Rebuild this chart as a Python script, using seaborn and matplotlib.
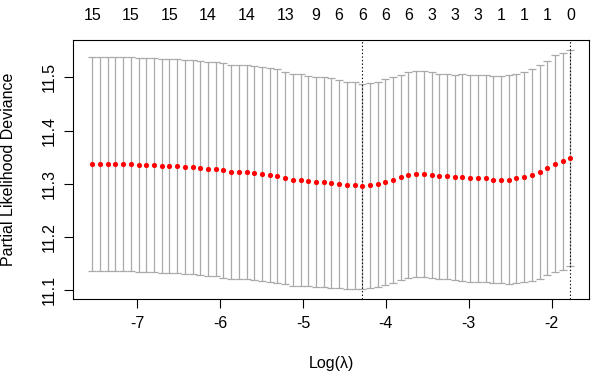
import matplotlib
matplotlib.use("Agg")
import matplotlib.pyplot as plt
import seaborn as sns
import pandas as pd

# Data
log_lambda = [
    -7.542, -7.449, -7.356, -7.263, -7.170, -7.077, -6.984, -6.891, -6.798, -6.705,
    -6.612, -6.519, -6.426, -6.333, -6.240, -6.147, -6.054, -5.960, -5.867, -5.774,
    -5.681, -5.588, -5.495, -5.402, -5.309, -5.216, -5.123, -5.030, -4.937, -4.844,
    -4.751, -4.658, -4.565, -4.472, -4.379, -4.286, -4.193, -4.100, -4.007, -3.914,
    -3.821, -3.728, -3.635, -3.542, -3.449, -3.356, -3.263, -3.170, -3.077, -2.984,
    -2.890, -2.797, -2.704, -2.611, -2.518, -2.425, -2.332, -2.239, -2.146, -2.053,
    -1.960, -1.867, -1.774,
]
deviance = [
    11.337, 11.337, 11.337, 11.337, 11.337, 11.337, 11.335, 11.335, 11.335, 11.333,
    11.333, 11.333, 11.331, 11.331, 11.329, 11.327, 11.327, 11.325, 11.323, 11.322,
    11.322, 11.320, 11.318, 11.316, 11.314, 11.310, 11.308, 11.307, 11.305, 11.303,
    11.303, 11.301, 11.299, 11.297, 11.297, 11.295, 11.297, 11.299, 11.303, 11.307,
    11.312, 11.316, 11.318, 11.318, 11.316, 11.314, 11.314, 11.312, 11.312, 11.310,
    11.310, 11.310, 11.308, 11.308, 11.308, 11.310, 11.312, 11.316, 11.323, 11.329,
    11.338, 11.342, 11.348,
]
dev_sd = [
    0.201, 0.201, 0.201, 0.201, 0.201, 0.201, 0.201, 0.201, 0.201, 0.201,
    0.201, 0.201, 0.201, 0.201, 0.201, 0.201, 0.201, 0.201, 0.201, 0.201,
    0.201, 0.201, 0.201, 0.201, 0.201, 0.199, 0.199, 0.199, 0.197, 0.197,
    0.197, 0.197, 0.195, 0.195, 0.195, 0.193, 0.193, 0.193, 0.193, 0.193,
    0.193, 0.193, 0.193, 0.193, 0.193, 0.193, 0.193, 0.193, 0.195, 0.195,
    0.195, 0.195, 0.195, 0.195, 0.197, 0.197, 0.197, 0.199, 0.201, 0.201,
    0.203, 0.203, 0.203,
]
# number of nonzero coefficients shown on top (index into log_lambda)
nz_idx = [0, 5, 10, 15, 20, 25, 29, 32, 35, 38, 41, 44, 47, 50, 53, 56, 59, 62]
nz_labels = ["15", "15", "15", "14", "14", "13", "9", "6", "6", "6", "6",
             "3", "3", "3", "1", "1", "1", "0"]
lambda_min = -4.286
lambda_1se = -1.774

df = pd.DataFrame({"loglam": log_lambda, "dev": deviance, "sd": dev_sd})

sns.set_style("ticks")
plt.rcParams["font.family"] = ["Liberation Sans", "DejaVu Sans"]

fig = plt.figure(figsize=(6, 3.75), dpi=100)
ax = fig.add_axes([0.1217, 0.2027, 0.86, 0.6906])

ax.errorbar(df["loglam"], df["dev"], yerr=df["sd"], fmt="none",
            ecolor="darkgrey", elinewidth=0.9, capsize=3, capthick=0.9, zorder=1)
sns.scatterplot(data=df, x="loglam", y="dev", color="red", s=14,
                linewidth=0, ax=ax, zorder=3)

for v in [lambda_min, lambda_1se]:
    ax.axvline(v, color="black", lw=0.8, linestyle=(0, (1.2, 2)), zorder=2)

ax.set_xlim(-7.775, -1.55)
ax.set_ylim(11.0837, 11.570)
ax.set_xticks([-7, -6, -5, -4, -3, -2])
ax.set_xticklabels(["-7", "-6", "-5", "-4", "-3", "-2"])
ax.set_yticks([11.1, 11.2, 11.3, 11.4, 11.5])
ax.set_yticklabels(["11.1", "11.2", "11.3", "11.4", "11.5"], rotation=90, va="center")
ax.tick_params(axis="both", direction="out", length=6.5, width=0.8,
               color="black", labelsize=11.5, labelcolor="black")
ax.tick_params(axis="x", pad=6)
ax.tick_params(axis="y", pad=5)
for sp in ax.spines.values():
    sp.set_visible(True)
    sp.set_color("black")
    sp.set_linewidth(0.8)

ax.set_xlabel("Log(λ)", fontsize=11.5, color="black")
ax.set_ylabel("Partial Likelihood Deviance", fontsize=11.5, color="black")
ax.xaxis.set_label_coords(0.5, -0.251)
ax.xaxis.label.set_va("center")
ax.yaxis.set_label_coords(-0.126, 0.5)
ax.yaxis.label.set_va("center")

top = ax.secondary_xaxis("top")
top.set_xticks([log_lambda[i] for i in nz_idx])
top.set_xticklabels(nz_labels)
top.tick_params(length=0, pad=12, labelsize=11.5, labelcolor="black")
top.spines["top"].set_visible(False)

fig.savefig("out.png", dpi=100)
